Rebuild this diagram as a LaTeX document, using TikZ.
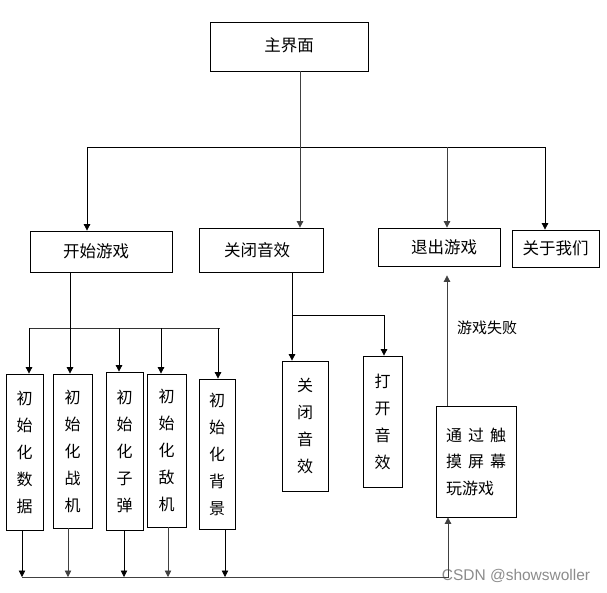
\documentclass[tikz,border=0pt]{standalone}
\usepackage{fontspec}
\newfontfamily\cjk{Noto Sans CJK SC}
\newfontfamily\wmfont{Liberation Sans}
\usetikzlibrary{arrows.meta}
\tikzset{
  box/.style={draw, line width=0.8pt, inner sep=0pt, font=\cjk\fontsize{16.5}{18}\selectfont},
  vbox/.style={box, align=center, font=\cjk\fontsize{16}{27}\selectfont},
  conn/.style={line width=0.8pt},
  arr/.style={conn, -{Triangle[width=6.5pt,length=6.5pt]}},
}
\begin{document}
\begin{tikzpicture}[x=1pt,y=-1pt]
\useasboundingbox (0,0) rectangle (607,592);
% boxes
\node[box, minimum width=158pt, minimum height=49pt] (main) at (289,46.5) {\raisebox{3pt}{主界面}};
\node[box, minimum width=142pt, minimum height=41pt] (start) at (101,251.5) {\hspace*{-10pt}开始游戏};
\node[box, minimum width=124pt, minimum height=44pt] (sound) at (261,250) {\hspace*{-8pt}\raisebox{2pt}{关闭音效}};
\node[box, minimum width=122pt, minimum height=38pt] (exit) at (439,247) {\hspace*{10pt}退出游戏};
\node[box, minimum width=87pt, minimum height=37pt] (about) at (555.5,248.5) {关于我们};
\node[vbox, minimum width=37pt, minimum height=156pt] (d1) at (24.5,452) {初\\始\\化\\数\\据};
\node[vbox, minimum width=39pt, minimum height=154pt] (d2) at (72.5,451) {初\\始\\化\\战\\机};
\node[vbox, minimum width=37pt, minimum height=158pt] (d3) at (124.5,451) {初\\始\\化\\子\\弹};
\node[vbox, minimum width=39pt, minimum height=153pt] (d4) at (166.5,450.5) {初\\始\\化\\敌\\机};
\node[vbox, minimum width=36pt, minimum height=150pt] (d5) at (217,454) {初\\始\\化\\背\\景};
\node[vbox, minimum width=46pt, minimum height=130pt] (s1) at (305,426) {关\\闭\\音\\效};
\node[vbox, minimum width=39pt, minimum height=131pt] (s2) at (382.5,421.5) {打\\开\\音\\效};
\node[box, align=left, minimum width=80pt, minimum height=111pt, font=\cjk\fontsize{16}{26.5}\selectfont] (touch) at (476,461.5) {通\hspace{6pt}过\hspace{6pt}触\\摸\hspace{6pt}屏\hspace{6pt}幕\\玩游戏};
\node[font=\cjk\fontsize{15}{15}\selectfont] (fail) at (487,328) {游戏失败};
\node[font=\wmfont\fontsize{15.5}{16}\selectfont, text=black!45] (wm) at (516,576) {CSDN @showswoller};
% top bus
\coordinate (bA) at (87,147);
\coordinate (bB) at (300,147);
\coordinate (bC) at (447,147);
\coordinate (bD) at (545,147);
\draw[conn] (bA) -- (bD);
\draw[arr, black!75] (main.south -| bB) -- (sound.north -| bB);
\draw[arr] (bA) -- (start.north -| bA);
\draw[arr, black!75] (bC) -- (exit.north -| bC);
\draw[arr] (bD) -- (about.north -| bD);
% start bus
\coordinate (cA) at (29,328);
\coordinate (cB) at (70,328);
\coordinate (cC) at (119,328);
\coordinate (cD) at (161,328);
\coordinate (cE) at (218,328);
\coordinate (cF) at (220,328);
\draw[conn, black!80] (cA) -- (cF);
\draw[arr] (start.south -| cB) -- (d2.north -| cB);
\draw[arr] (cA) -- (d1.north -| cA);
\draw[arr] (cC) -- (d3.north -| cC);
\draw[arr] (cD) -- (d4.north -| cD);
\draw[arr] (cE) -- (d5.north -| cE);
% bottom bus
\coordinate (eA) at (22,577);
\coordinate (eB) at (68,577);
\coordinate (eC) at (124,577);
\coordinate (eD) at (168,577);
\coordinate (eE) at (225,577);
\coordinate (eF) at (448,577);
\draw[arr] (d1.south -| eA) -- (eA);
\draw[arr, black!75] (d2.south -| eB) -- (eB);
\draw[arr] (d3.south -| eC) -- (eC);
\draw[arr, black!75] (d4.south -| eD) -- (eD);
\draw[arr] (d5.south -| eE) -- (eE);
\draw[arr, black!75] (eA) -- (eF) -- (touch.south -| eF);
% sound branch
\coordinate (fA) at (292,315);
\coordinate (fB) at (384,315);
\draw[arr] (sound.south -| fA) -- (s1.north -| fA);
\draw[arr] (fA) -- (fB) -- (s2.north -| fB);
% touch up to exit
\draw[arr, black!75, shorten >=9pt] (touch.north -| bC) -- (exit.south -| bC);
\end{tikzpicture}
\end{document}
